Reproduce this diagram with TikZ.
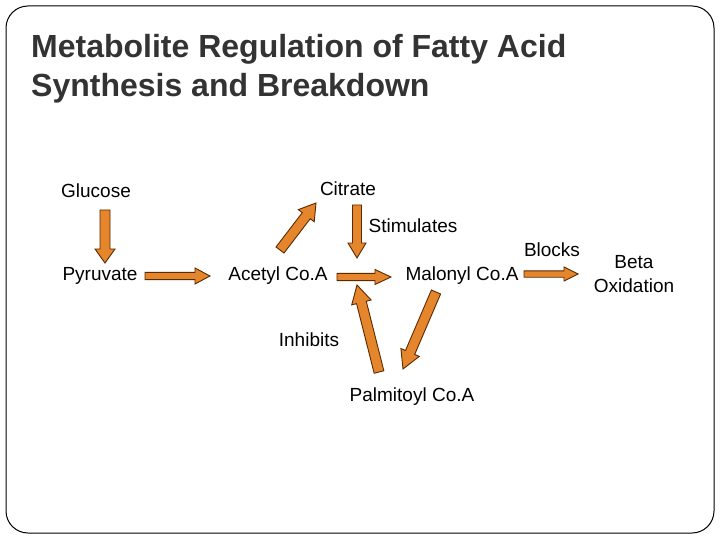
\documentclass[tikz,border=0pt]{standalone}
\usepackage{fontspec}
\setmainfont{Liberation Sans}
\usetikzlibrary{calc}
\definecolor{arrowfill}{HTML}{E6862C}
\definecolor{arrowline}{HTML}{5A2A00}
\definecolor{titlegray}{HTML}{333333}
\tikzset{
  lbl/.style={font=\fontsize{19}{24}\selectfont, inner sep=0pt, anchor=base, text=black},
  blk/.style={fill=arrowfill, draw=arrowline, line width=0.9pt, line join=miter},
}
% #1 start, #2 end, #3 shaft half width, #4 head half width, #5 head length
\newcommand\blockarr[5]{%
  \coordinate (hb) at ($(#2)!#5!(#1)$);
  \draw[blk] ($(#1)!#3!90:(#2)$) -- ($(hb)!#3!90:(#2)$) -- ($(hb)!#4!90:(#2)$) -- (#2)
    -- ($(hb)!#4!-90:(#2)$) -- ($(hb)!#3!-90:(#2)$) -- ($(#1)!#3!-90:(#2)$) -- cycle;
}
\begin{document}
\begin{tikzpicture}[x=1pt,y=-1pt]
\useasboundingbox (0,0) rectangle (720,540);
\fill[white] (0,0) rectangle (720,540);
\draw[black, line width=1pt, rounded corners=22pt] (6,6) rectangle (714,533);

\node[anchor=base west, inner sep=0pt, text=titlegray, align=left,
  font=\fontsize{32}{39}\bfseries\selectfont] (title) at (31,97)
  {Metabolite Regulation of Fatty Acid\\Synthesis and Breakdown};

\node[lbl] (glucose) at (96,198) {Glucose};
\node[lbl] (citrate) at (348,196) {Citrate};
\node[lbl] (stim) at (413,233) {Stimulates};
\node[lbl] (pyruvate) at (100,280) {Pyruvate};
\node[lbl] (acetyl) at (278,280) {Acetyl Co.A};
\node[lbl] (malonyl) at (462,280) {Malonyl Co.A};
\node[lbl] (blocks) at (552,256) {Blocks};
\node[lbl, align=center, anchor=base] (beta) at (634,292) {Beta\\Oxidation};
\node[lbl] (inhibits) at (309,346) {Inhibits};
\node[lbl] (palm) at (412,401) {Palmitoyl Co.A};

\coordinate (g1) at (105,210); \coordinate (g2) at (105,263);
\coordinate (p1) at (145,276); \coordinate (p2) at (210,276);
\coordinate (a1) at (280,250); \coordinate (a2) at (316,203);
\coordinate (c1) at (357,205); \coordinate (c2) at (357,258);
\coordinate (m1) at (337,277); \coordinate (m2) at (391,277);
\coordinate (i1) at (379,372); \coordinate (i2) at (357,285);
\coordinate (d1) at (436,292); \coordinate (d2) at (403,369);
\coordinate (b1) at (524,274); \coordinate (b2) at (578,274);

\blockarr{g1}{g2}{5pt}{10pt}{14pt}
\blockarr{p1}{p2}{3.6pt}{8pt}{15pt}
\blockarr{a1}{a2}{5pt}{10pt}{16pt}
\blockarr{c1}{c2}{4.5pt}{9pt}{15pt}
\blockarr{m1}{m2}{3.6pt}{7.5pt}{16pt}
\blockarr{i1}{i2}{5pt}{10pt}{18pt}
\blockarr{d1}{d2}{5pt}{10pt}{18pt}
\blockarr{b1}{b2}{3.2pt}{7pt}{14pt}
\end{tikzpicture}
\end{document}
